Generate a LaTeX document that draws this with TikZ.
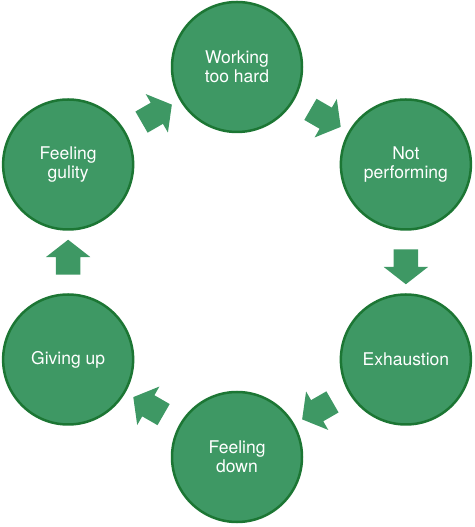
\documentclass[tikz,border=0pt]{standalone}
\usepackage{fontspec}
\setmainfont{TeX Gyre Heros}
\usetikzlibrary{calc,shapes.arrows}
\definecolor{stagegreen}{RGB}{62,152,100}
\definecolor{stageedge}{RGB}{28,118,52}
\tikzset{
  stage/.style = {circle, draw = stageedge, line width = 2.5pt, fill = stagegreen,
    minimum size = 130pt, inner sep = 0pt, align = center, text = white,
    font = \fontsize{17.5}{19}\selectfont},
  flow/.style = {single arrow, fill = stagegreen, draw = none,
    inner xsep = 0pt, inner ysep = 12pt, minimum height = 35pt,
    single arrow head extend = 10pt, single arrow head indent = 0pt,
    single arrow tip angle = 104}
}
\newcommand{\flowarrow}[2]{%
  \path let \p1 = ($(#2)-(#1)$), \n1 = {atan2(\y1,\x1)} in
    node[flow, rotate = \n1] at ($(#1)!0.5!(#2)$) {};%
}

\begin{document}
\begin{tikzpicture}[x = 1pt, y = 1pt]
    \useasboundingbox (0,0) rectangle (474,527);
    \coordinate (hub) at (237,265);
    \node[stage] (work) at ($(hub) + (90:195)$) {Working\\too hard};
    \node[stage] (perf) at ($(hub) + (30:195)$) {Not\\performing};
    \node[stage] (exh) at ($(hub) + (-30:195)$) {Exhaustion};
    \node[stage] (down) at ($(hub) + (-90:195)$) {Feeling\\down};
    \node[stage] (give) at ($(hub) + (210:195)$) {Giving up};
    \node[stage] (guilt) at ($(hub) + (150:195)$) {Feeling\\gulity};
    \flowarrow{work}{perf}
    \flowarrow{perf}{exh}
    \flowarrow{exh}{down}
    \flowarrow{down}{give}
    \flowarrow{give}{guilt}
    \flowarrow{guilt}{work}
\end{tikzpicture}
\end{document}
